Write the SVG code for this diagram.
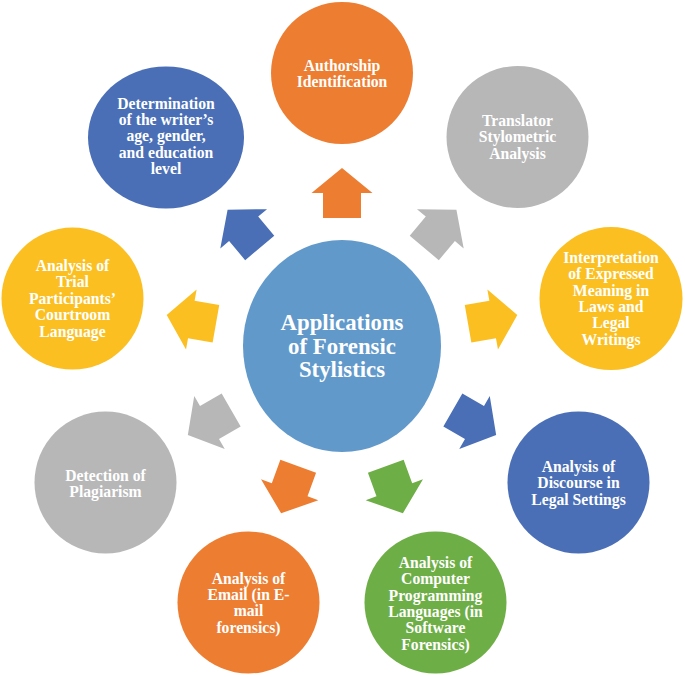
<svg xmlns="http://www.w3.org/2000/svg" xmlns:xlink="http://www.w3.org/1999/xlink" width="685" height="677" viewBox="0 0 685 677">
<style>
text{font-family:"Liberation Serif","Times New Roman",serif;font-weight:bold;fill:#fff;text-anchor:middle}
.t{font-size:15.7px}
.c{font-size:22.8px}
.orange{fill:#ED7D31}
.gray{fill:#B7B7B7}
.yellow{fill:#FBBF22}
.blue{fill:#4A6FB6}
.green{fill:#6EAE46}
.center{fill:#6199CB}
</style>
<defs>
<polygon id="arr" points="342,168 372.5,193 361,193 361,218 323,218 323,193 311.5,193"/>
</defs>
<rect width="685" height="677" fill="#fff"/>
<g id="connectors">
<use xlink:href="#arr" class="orange"/>
<use xlink:href="#arr" class="gray" transform="rotate(40 342 346)"/>
<use xlink:href="#arr" class="yellow" transform="rotate(80 342 346)"/>
<use xlink:href="#arr" class="blue" transform="rotate(120 342 346)"/>
<use xlink:href="#arr" class="green" transform="rotate(160 342 346)"/>
<use xlink:href="#arr" class="orange" transform="rotate(200 342 346)"/>
<use xlink:href="#arr" class="gray" transform="rotate(240 342 346)"/>
<use xlink:href="#arr" class="yellow" transform="rotate(280 342 346)"/>
<use xlink:href="#arr" class="blue" transform="rotate(320 342 346)"/>
</g>
<g id="center">
<ellipse cx="342" cy="346" rx="99" ry="106" class="center"/>
<text class="c" x="342" y="330">Applications</text>
<text class="c" x="342" y="353.5">of Forensic</text>
<text class="c" x="342" y="377">Stylistics</text>
</g>
<g id="authorship">
<circle cx="342" cy="73" r="71" class="orange"/>
<text class="t" x="342" y="70.5">Authorship</text>
<text class="t" x="342" y="86.7">Identification</text>
</g>
<g id="translator">
<circle cx="517.5" cy="137" r="71" class="gray"/>
<text class="t" x="517.5" y="126">Translator</text>
<text class="t" x="517.5" y="142.3">Stylometric</text>
<text class="t" x="517.5" y="158.7">Analysis</text>
</g>
<g id="interpretation">
<circle cx="611" cy="298.6" r="71.5" class="yellow"/>
<text class="t" x="611" y="262.7">Interpretation</text>
<text class="t" x="611" y="279.2">of Expressed</text>
<text class="t" x="611" y="295.6">Meaning in</text>
<text class="t" x="611" y="312">Laws and</text>
<text class="t" x="611" y="328.4">Legal</text>
<text class="t" x="611" y="344.8">Writings</text>
</g>
<g id="discourse">
<circle cx="578.5" cy="482.5" r="71" class="blue"/>
<text class="t" x="578.5" y="471.7">Analysis of</text>
<text class="t" x="578.5" y="488.2">Discourse in</text>
<text class="t" x="578.5" y="504.6">Legal Settings</text>
</g>
<g id="computer">
<circle cx="435.5" cy="602.5" r="71" class="green"/>
<text class="t" x="435.5" y="567.7">Analysis of</text>
<text class="t" x="435.5" y="584.1">Computer</text>
<text class="t" x="435.5" y="600.5">Programming</text>
<text class="t" x="435.5" y="616.9">Languages (in</text>
<text class="t" x="435.5" y="633.3">Software</text>
<text class="t" x="435.5" y="649.7">Forensics)</text>
</g>
<g id="email">
<circle cx="248.5" cy="602.5" r="71" class="orange"/>
<text class="t" x="248.5" y="583.5">Analysis of</text>
<text class="t" x="248.5" y="600">Email (in E-</text>
<text class="t" x="248.5" y="616.4">mail</text>
<text class="t" x="248.5" y="632.8">forensics)</text>
</g>
<g id="plagiarism">
<circle cx="105.5" cy="482.5" r="71" class="gray"/>
<text class="t" x="105.5" y="481">Detection of</text>
<text class="t" x="105.5" y="497">Plagiarism</text>
</g>
<g id="trial">
<circle cx="72.5" cy="298.6" r="71" class="yellow"/>
<text class="t" x="72.5" y="271">Analysis of</text>
<text class="t" x="72.5" y="287.4">Trial</text>
<text class="t" x="72.5" y="303.8">Participants’</text>
<text class="t" x="72.5" y="320.2">Courtroom</text>
<text class="t" x="72.5" y="336.6">Language</text>
</g>
<g id="determination">
<ellipse cx="166" cy="137.5" rx="78" ry="71" class="blue"/>
<text class="t" x="166" y="108.5">Determination</text>
<text class="t" x="166" y="124.9">of the writer’s</text>
<text class="t" x="166" y="141.3">age, gender,</text>
<text class="t" x="166" y="157.7">and education</text>
<text class="t" x="166" y="174.1">level</text>
</g>
</svg>
